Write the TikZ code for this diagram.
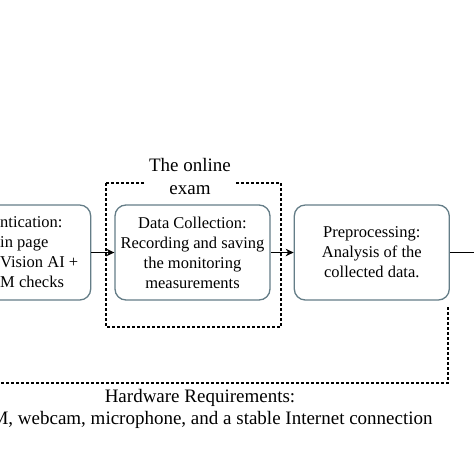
\documentclass[tikz,border=0pt]{standalone}
\usepackage{fontspec}
\setmainfont{Liberation Serif}
\usetikzlibrary{positioning, arrows.meta}
\definecolor{boxgray}{RGB}{100,125,135}
\tikzset{
	>={Stealth[length=8pt, width=7.5pt]}, % filled arrow heads
	node distance=23pt, % gap between two boxes of the chain
	stage/.style={draw=boxgray, line width=1.3pt, rounded corners=11pt, minimum width=155pt, minimum height=95pt, align=center, font=\fontsize{16.5}{20}\selectfont}, % one step of the process
	frame/.style={dash pattern=on 3pt off 2pt, line width=1.2pt}, % dashed grouping lines
	note/.style={align=center, font=\fontsize{19}{22.5}\selectfont}, % captions outside the boxes
	flow/.style={line width=1.3pt}, % arrows between the steps
}

\begin{document}
\begin{tikzpicture}[x=1pt, y=-1pt]
	\path[use as bounding box, clip] (0,0) rectangle (474,474);
			\node[stage] (collect) at (192.5,252.5) {Data Collection:\\ Recording and saving\\ the monitoring\\ measurements};
			\node[stage, left=of collect] (auth) {};
			\node[stage, right=of collect] (prep) {Preprocessing:\\ Analysis of the\\ collected data.};
			\node[anchor=west, align=left, font=\fontsize{16.5}{20}\selectfont] (authtext) at (-3.3,252) {ntication:\\ in page\\ Vision AI +\\ M checks};
	% the online exam group
	\draw[frame] (106,183) rectangle (281,327);
			\node[note, fill=white, inner sep=4.5pt] (exam) at (190,176.5) {The online\\ exam};
	% hardware group
			\coordinate (hwtop) at (448,307);
			\coordinate (hwcorner) at (448,383);
			\coordinate (hwend) at (-5,383);
	\draw[frame] (hwtop) -- (hwcorner) -- (hwend);
			\node[note] (hw) at (200,398) {Hardware Requirements:};
			\node[note, anchor=west] (hwlist) at (-12,420) {M, webcam, microphone, and a stable Internet connection};
	% arrows
			\coordinate (exit) at (485,252.5);
	\draw[flow, ->] (auth) -- (collect);
	\draw[flow, ->] (collect) -- (prep);
	\draw[flow] (prep) -- (exit);
\end{tikzpicture}
\end{document}
